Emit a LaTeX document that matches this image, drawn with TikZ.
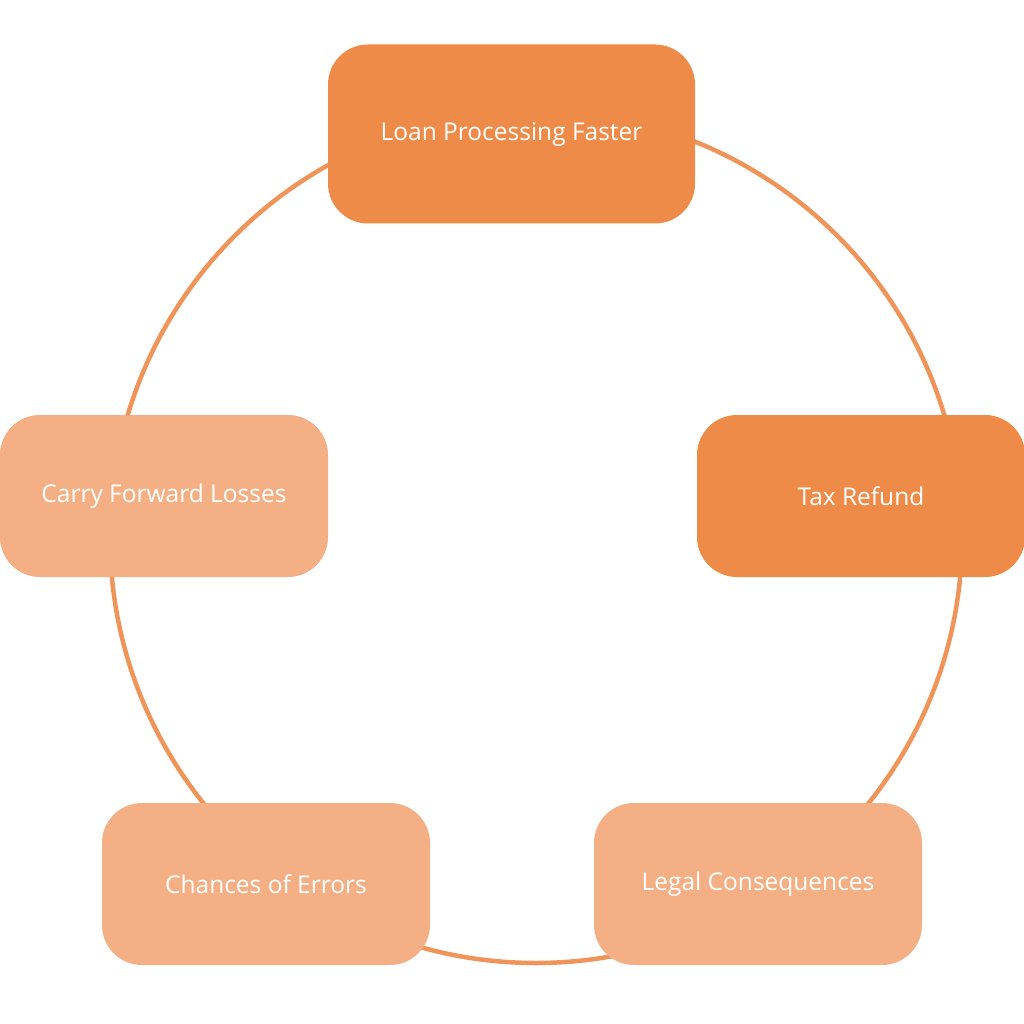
\documentclass[tikz,border=0pt]{standalone}
\usepackage{fontspec}
\setmainfont{Open Sans}
\definecolor{darkor}{HTML}{EF8B48}
\definecolor{lightor}{HTML}{F4B084}
\definecolor{ringor}{HTML}{F0955A}
\tikzset{
  box/.style={rounded corners=40pt, inner sep=0pt, text=white, font=\fontsize{24.5}{29}\selectfont},
  darkbox/.style={box, fill=darkor},
  lightbox/.style={box, fill=lightor},
  ring/.style={draw=ringor, line width=4.5pt}
}
\begin{document}
\begin{tikzpicture}[x=1pt,y=-1pt]
\useasboundingbox[fill=white] (0,0) rectangle (1024,1024);
\node[circle, ring, minimum size=852pt, inner sep=0pt] (ring) at (536,537) {};
\node[darkbox, minimum width=367pt, minimum height=179pt] (loan) at (511.5,134) {Loan Processing Faster};
\node[darkbox, minimum width=328pt, minimum height=162pt] (tax) at (861,496) {Tax Refund};
\node[lightbox, minimum width=328pt, minimum height=162pt] (carry) at (164,496) {Carry Forward Losses};
\node[lightbox, minimum width=328pt, minimum height=162pt] (errors) at (266,884) {Chances of Errors};
\node[lightbox, minimum width=328pt, minimum height=162pt] (legal) at (758,884) {Legal Consequences};
\end{tikzpicture}
\end{document}
